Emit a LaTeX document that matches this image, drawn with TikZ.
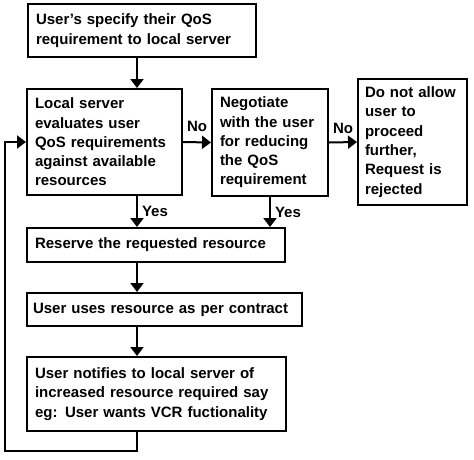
\documentclass[tikz,border=0pt]{standalone}
\usepackage{fontspec}
\setmainfont{Liberation Sans}
\usetikzlibrary{arrows.meta}
\newcommand\bxfont{\bfseries\fontsize{15}{19.3}\selectfont\hyphenpenalty=10000 \exhyphenpenalty=10000 \relax}
\begin{document}
\begin{tikzpicture}[x=1pt,y=-1pt,
  bx/.style 2 args={draw, line width=2pt, inner xsep=8pt, inner ysep=0pt,
    text width=#1pt-16pt, minimum height=#2pt, align=left, font=\bxfont},
  arr/.style={line width=2pt, -{Triangle[width=13pt,length=9pt]}},
  lbl/.style={font=\bfseries\fontsize{15}{18}\selectfont, inner sep=0pt}]
\useasboundingbox (0,0) rectangle (474,459);
\node[bx={228}{53}] (b1) at (142,30.5) {User's specify their QoS\\requirement to local server};
\node[bx={155}{106}] (b2) at (104.5,142) {Local server\\evaluates user\\QoS requirements\\against available\\resources};
\node[bx={116}{107}] (b3) at (270,142.5) {Negotiate\\with the user\\for reducing\\the QoS\\requirement};
\node[bx={109}{126}, inner xsep=7pt, text width=95pt] (b4) at (412.5,142) {Do not allow\\user to\\proceed\\further,\\Request is\\rejected};
\node[bx={258}{34}] (b5) at (156,245) {Reserve the requested resource};
\node[bx={275}{33}, inner xsep=6pt, text width=263pt] (b6) at (164.5,309.5) {User uses resource as per contract};
\node[bx={259}{74}] (b7) at (156.5,394) {User notifies to local server of\\increased resource required say\\eg: User wants VCR fuctionality};
\coordinate (c1) at (137,0);
\coordinate (lp) at (5,451);
\draw[arr] (b1.south -| c1) -- (b2.north -| c1);
\draw[arr] (b2.east) -- node[lbl, above=10pt] {No} (b3.west);
\draw[arr] (b3.east) -- node[lbl, above=8pt] {No} (b4.west);
\draw[arr] (b2.south -| c1) -- node[lbl, right=4pt] {Yes} (b5.north -| c1);
\draw[arr] (b3.south) -- node[lbl, right=4pt] {Yes} (b3.south |- b5.north);
\draw[arr] (b5.south -| c1) -- (b6.north -| c1);
\draw[arr] (b6.south -| c1) -- (b7.north -| c1);
\draw[arr] (b7.south -| c1) -- (c1 |- lp) -- (lp) -- (lp |- b2.west) -- (b2.west);
\end{tikzpicture}
\end{document}
